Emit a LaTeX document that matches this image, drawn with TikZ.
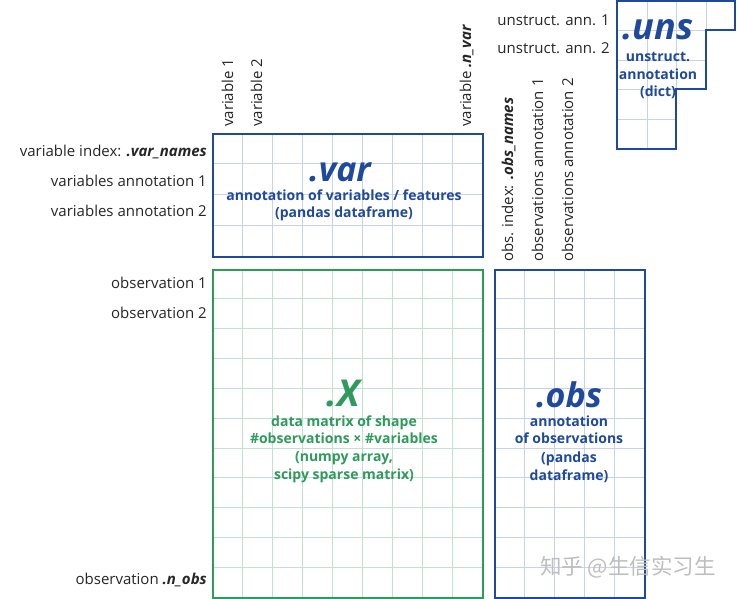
\documentclass[tikz,border=0pt]{standalone}
\usepackage{fontspec}
\setmainfont{Open Sans}
\newfontfamily\cjkfont{Noto Sans CJK SC}
\definecolor{annblue}{RGB}{30,73,157}
\definecolor{gridb}{RGB}{200,211,230}
\definecolor{xgreen}{RGB}{46,154,92}
\definecolor{gridg}{RGB}{192,226,207}
\definecolor{wmgray}{RGB}{190,190,190}
\begin{document}
\begin{tikzpicture}[x=1pt,y=-1pt,
  lbl/.style={font=\fontsize{15}{17}\selectfont, inner sep=0pt, text=black!85},
  lblr/.style={lbl, anchor=base east},
  vlbl/.style={lbl, rotate=90, anchor=base west},
  bluebox/.style={draw=annblue, line width=2.4pt, inner sep=0pt, anchor=north west},
  greenbox/.style={draw=xgreen, line width=2.4pt, inner sep=0pt, anchor=north west},
  gb/.style={draw=gridb, line width=0.7pt},
  gg/.style={draw=gridg, line width=0.7pt},
  ttl/.style={font=\fontsize{34}{36}\selectfont\bfseries\itshape, inner sep=0pt, anchor=base},
  sub/.style={font=\fontsize{14}{16}\selectfont\bfseries, inner sep=0pt, anchor=base}]
\useasboundingbox (0,0) rectangle (737,598);

% ---------- grids ----------
% var: 9 cols x 4 rows
\foreach \i in {1,...,8} \draw[gb] ({212+30*\i},133) -- ({212+30*\i},256);
\foreach \j in {1,2,3} \draw[gb] (212,{133+30.75*\j}) -- (482,{133+30.75*\j});
% X: 9 cols x 11 rows
\foreach \i in {1,...,8} \draw[gg] ({212+30*\i},269) -- ({212+30*\i},597);
\foreach \j in {1,...,10} \draw[gg] (212,{269+29.82*\j}) -- (482,{269+29.82*\j});
% obs: 5 cols x 11 rows
\foreach \i in {1,...,4} \draw[gb] ({494+30*\i},269) -- ({494+30*\i},597);
\foreach \j in {1,...,10} \draw[gb] (494,{269+29.82*\j}) -- (644,{269+29.82*\j});
% uns staircase grid
\draw[gb] (647,1) -- (647,149);
\draw[gb] (676,1) -- (676,89);
\draw[gb] (706,1) -- (706,30);
\draw[gb] (617,30) -- (706,30);
\draw[gb] (617,60) -- (706,60);
\draw[gb] (617,89) -- (676,89);
\draw[gb] (617,119) -- (676,119);

% ---------- boxes ----------
\node[bluebox, minimum width=270pt, minimum height=123pt] (var) at (212,133) {};
\node[greenbox, minimum width=270pt, minimum height=328pt] (X) at (212,269) {};
\node[bluebox, minimum width=150pt, minimum height=328pt] (obs) at (494,269) {};
\draw[draw=annblue, line width=2.4pt, line join=miter]
  (617,1) -- (735,1) -- (735,30) -- (706,30) -- (706,89) -- (676,89) -- (676,149) -- (617,149) -- cycle;
\coordinate (uns) at (658,39);

% ---------- titles ----------
\node[ttl, text=annblue] (vart) at (340,181) {.var};
\node[sub, text=annblue] (var1) at (344,200) {annotation of variables / features};
\node[sub, text=annblue] (var2) at (344,217) {(pandas dataframe)};

\node[ttl, text=xgreen, font=\fontsize{37}{39}\selectfont\bfseries\itshape] (Xt) at (343,406) {.X};
\node[sub, text=xgreen] (X1) at (344,426) {data matrix of shape};
\node[sub, text=xgreen] (X2) at (344,443) {\#observations × \#variables};
\node[sub, text=xgreen] (X3) at (344,461) {(numpy array,};
\node[sub, text=xgreen] (X4) at (344,479) {scipy sparse matrix)};

\node[ttl, text=annblue] (obst) at (569,407) {.obs};
\node[sub, text=annblue] (obs1) at (569,426) {annotation};
\node[sub, text=annblue] (obs2) at (569,443) {of observations};
\node[sub, text=annblue] (obs3) at (569,462) {(pandas};
\node[sub, text=annblue] (obs4) at (569,480) {dataframe)};

\node[ttl, text=annblue, font=\fontsize{36}{38}\selectfont\bfseries\itshape] (unst) at (658,39) {.uns};
\node[sub, text=annblue] (uns1) at (658,61) {unstruct.};
\node[sub, text=annblue] (uns2) at (658,79) {annotation};
\node[sub, text=annblue] (uns3) at (658,96) {(dict)};

% ---------- side labels ----------
\node[lblr] (l1) at (207,156) {variable index: \textbf{\textit{.var\_names}}};
\node[lblr] (l2) at (207,186) {variables annotation 1};
\node[lblr] (l3) at (207,216) {variables annotation 2};
\node[lblr] (l4) at (207,288) {observation 1};
\node[lblr] (l5) at (207,318) {observation 2};
\node[lblr] (l6) at (207,584) {observation \textbf{\textit{.n\_obs}}};

\node[lblr] (u1) at (610,25) {unstruct. ann. 1};
\node[lblr] (u2) at (610,53) {unstruct. ann. 2};

% ---------- top labels ----------
\node[vlbl] (t1) at (233,127) {variable 1};
\node[vlbl] (t2) at (262,127) {variable 2};
\node[vlbl] (t3) at (471,127) {variable \textbf{\textit{.n\_var}}};
\node[vlbl] (o1) at (513,262) {obs. index: \textbf{\textit{.obs\_names}}};
\node[vlbl] (o2) at (543,262) {observations annotation 1};
\node[vlbl] (o3) at (573,262) {observations annotation 2};

% ---------- watermark ----------
\node[font=\cjkfont\fontsize{21.5}{23}\selectfont, text=wmgray, inner sep=0pt, anchor=base west] (wm) at (540,574) {知乎 @生信实习生};
\end{tikzpicture}
\end{document}
